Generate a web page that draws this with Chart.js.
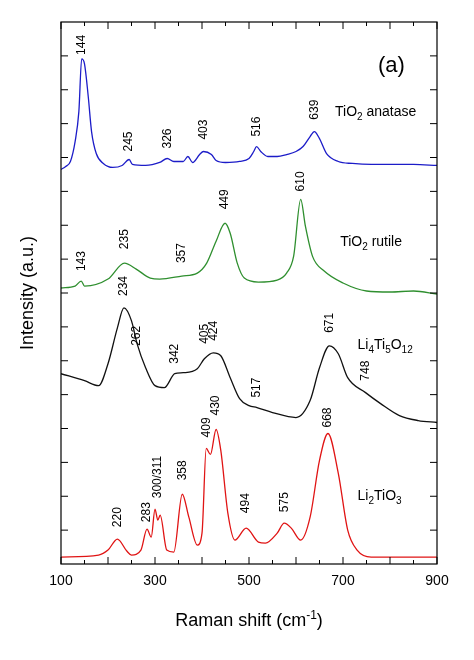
<!DOCTYPE html>
<html>
<head>
<meta charset="utf-8">
<script src="https://cdn.jsdelivr.net/npm/chart.js@4"></script>
<style>
  body { margin: 0; background: #fff; }
  #wrap { width: 474px; height: 660px; }
</style>
</head>
<body>
<div id="wrap"><canvas id="raman"></canvas></div>
<script>
// Raman spectra, intensity in arbitrary units
const anataseX = [100,110,120,130,138,144,150,158,165,175,190,210,230,245,252,280,310,326,340,360,370,380,395,403,420,430,450,480,500,510,516,525,540,560,580,600,615,630,639,650,665,690,720,760,800,850,900];
const anataseY = [396,399,404,424,454,507,502,469,434,412,402,398,400,406,401,400,403,407,404,404,409,403,411,414,411,405,403,404,407,414,419,414,409,409,411,414,419,429,434,427,412,404,402,401,401,401,400];

const rutileX = [100,130,143,150,200,235,260,290,310,357,390,410,430,449,460,475,490,520,560,580,595,610,620,635,660,700,750,800,850,900];
const rutileY = [277,279,284,279,286,302,296,287,286,289,292,302,324,342,332,302,287,283,285,292,309,366,339,309,294,282,274,273,274,271];

const ltoX = [100,150,180,200,220,234,250,262,280,300,320,342,360,390,405,424,440,460,480,500,517,550,600,630,650,671,690,710,748,780,820,860,900];
const ltoY = [191,184,179,201,237,257,244,221,197,179,177,191,192,196,206,212,209,187,166,159,157,152,147,164,197,219,211,187,172,161,149,144,142];

const l2tX = [100,180,200,220,240,250,270,283,292,300,306,311,325,340,358,372,390,400,409,418,430,440,455,470,494,520,535,560,575,590,610,630,650,668,690,710,730,760,800,900];
const l2tY = [7,9,14,25,13,9,14,35,27,55,44,49,14,12,70,47,19,31,116,110,135,114,51,24,36,22,21,31,41,36,24,47,104,131,91,34,14,7,7,7];

// peak labels: [x, label bottom (a.u.), text]
const peakLabels = [
  [144,511,'144'],[245,414,'245'],[326,417,'326'],[403,426,'403'],[516,429,'516'],[639,446,'639'],
  [143,294,'143'],[235,316,'235'],[357,302,'357'],[449,356,'449'],[610,374,'610'],
  [234,269,'234'],[262,219,'262'],[342,201,'342'],[405,221,'405'],[424,224,'424'],[517,167,'517'],[671,232,'671'],[748,184,'748'],
  [220,37,'220'],[283,42,'283'],[305,66,'300/311'],[358,84,'358'],[409,127,'409'],[430,149,'430'],[494,51,'494'],[575,52,'575'],[668,137,'668']
];

// series names: [x, y (a.u.), parts] where parts are [text, 'sub'|'']
const seriesNames = [
  [683, 450, [['TiO','' ],['2','sub'],[' anatase','']]],
  [694, 319, [['TiO',''],['2','sub'],[' rutile','']]],
  [731, 216, [['Li',''],['4','sub'],['Ti',''],['5','sub'],['O',''],['12','sub']]],
  [731, 64,  [['Li',''],['2','sub'],['TiO',''],['3','sub']]]
];

function toPoints(xs, ys) {
  return xs.map((x, i) => ({ x: x, y: ys[i] }));
}

const FONT = 'Arial, "Liberation Sans", sans-serif';

const decorations = {
  id: 'decorations',
  afterDraw(chart) {
    const ctx = chart.ctx;
    const xs = chart.scales.x, ys = chart.scales.y;
    const a = chart.chartArea;
    ctx.save();
    // frame
    ctx.strokeStyle = '#000';
    ctx.lineWidth = 1.2;
    ctx.strokeRect(a.left, a.top, a.right - a.left, a.bottom - a.top);
    // inward ticks
    ctx.lineWidth = 1;
    ctx.beginPath();
    for (let v = 100; v <= 900; v += 50) {
      const px = xs.getPixelForValue(v);
      const len = v % 100 === 0 ? 7 : 4;
      ctx.moveTo(px, a.bottom); ctx.lineTo(px, a.bottom - len);
      ctx.moveTo(px, a.top); ctx.lineTo(px, a.top + len);
    }
    for (let v = 34; v < 544; v += 34) {
      const py = ys.getPixelForValue(v);
      ctx.moveTo(a.left, py); ctx.lineTo(a.left + 7, py);
      ctx.moveTo(a.right, py); ctx.lineTo(a.right - 7, py);
    }
    ctx.stroke();

    // peak labels
    ctx.fillStyle = '#000';
    ctx.font = '12px ' + FONT;
    ctx.textAlign = 'left';
    ctx.textBaseline = 'middle';
    peakLabels.forEach(([x, y, t]) => {
      ctx.save();
      ctx.translate(xs.getPixelForValue(x), ys.getPixelForValue(y));
      ctx.rotate(-Math.PI / 2);
      ctx.fillText(t, 0, 0);
      ctx.restore();
    });

    // series names with subscripts
    ctx.textBaseline = 'alphabetic';
    seriesNames.forEach(([x, y, parts]) => {
      let px = xs.getPixelForValue(x);
      const py = ys.getPixelForValue(y);
      parts.forEach(([t, k]) => {
        ctx.font = (k === 'sub' ? '10px ' : '14px ') + FONT;
        ctx.fillText(t, px, k === 'sub' ? py + 4 : py);
        px += ctx.measureText(t).width;
      });
    });

    // panel tag
    ctx.font = '22px ' + FONT;
    ctx.fillText('(a)', 378, 72);

    // axis titles
    ctx.font = '18px ' + FONT;
    ctx.textAlign = 'center';
    ctx.save();
    ctx.translate(28, (a.top + a.bottom) / 2);
    ctx.rotate(-Math.PI / 2);
    ctx.textBaseline = 'middle';
    ctx.fillText('Intensity (a.u.)', 0, 0);
    ctx.restore();

    ctx.textAlign = 'left';
    const main = 'Raman shift (cm';
    const w1 = ctx.measureText(main).width;
    ctx.font = '12px ' + FONT;
    const w2 = ctx.measureText('-1').width;
    ctx.font = '18px ' + FONT;
    const w3 = ctx.measureText(')').width;
    let sx = (a.left + a.right) / 2 - (w1 + w2 + w3) / 2;
    const by = 626;
    ctx.fillText(main, sx, by);
    ctx.font = '12px ' + FONT;
    ctx.fillText('-1', sx + w1, by - 7);
    ctx.font = '18px ' + FONT;
    ctx.fillText(')', sx + w1 + w2, by);
    ctx.restore();
  }
};

function line(xs, ys, color) {
  return {
    data: toPoints(xs, ys),
    borderColor: color,
    borderWidth: 1.3,
    pointRadius: 0,
    fill: false,
    cubicInterpolationMode: 'monotone'
  };
}

new Chart(document.getElementById('raman'), {
  type: 'line',
  data: {
    datasets: [
      line(anataseX, anataseY, '#1c1cc8'),
      line(rutileX, rutileY, '#2f8f2f'),
      line(ltoX, ltoY, '#111111'),
      line(l2tX, l2tY, '#e01414')
    ]
  },
  options: {
    responsive: true,
    maintainAspectRatio: false,
    animation: false,
    layout: { padding: { left: 0, top: 22, right: 37, bottom: 0 } },
    plugins: { legend: { display: false }, tooltip: { enabled: false } },
    scales: {
      x: {
        type: 'linear', min: 100, max: 900,
        grid: { display: false, drawTicks: false },
        border: { display: false },
        afterFit: s => { s.height = 96; },
        ticks: {
          stepSize: 100, padding: 9, color: '#000', maxRotation: 0,
          font: { size: 14, family: FONT },
          callback: v => (v % 200 === 100 ? v : '')
        }
      },
      y: {
        min: 0, max: 544,
        grid: { display: false, drawTicks: false },
        border: { display: false },
        afterFit: s => { s.width = 61; },
        ticks: { display: false }
      }
    }
  },
  plugins: [decorations]
});
</script>
</body>
</html>
